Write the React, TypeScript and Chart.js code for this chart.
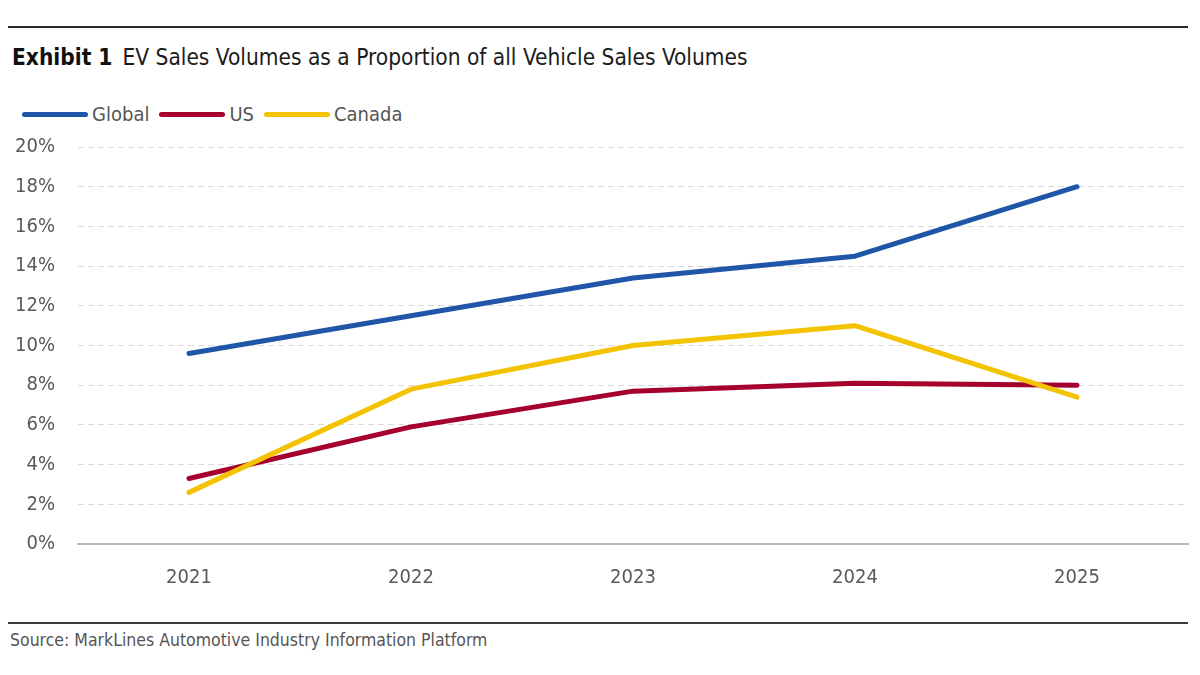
import React, { useEffect, useRef } from "react";
import { Chart, registerables } from "chart.js";

Chart.register(...registerables);

// Share of EV sales in all vehicle sales, percent
const years = ["2021", "2022", "2023", "2024", "2025"];
const globalShare = [9.6, 11.5, 13.4, 14.5, 18.0];
const usShare = [3.3, 5.9, 7.7, 8.1, 8.0];
const canadaShare = [2.6, 7.8, 10.0, 11.0, 7.4];

const seriesNames = ["Global", "US", "Canada"];
const seriesColors = ["#1f56a8", "#a6002f", "#f4c300"];

const yMin = 0;
const yMax = 20;
const yStep = 2;

const FONT = '"Liberation Sans Narrow", "DejaVu Sans Condensed", "Roboto Condensed", sans-serif';

export default function App() {
  const canvasRef = useRef<HTMLCanvasElement | null>(null);

  useEffect(() => {
    const canvas = canvasRef.current;
    if (!canvas) return;
    const values = [globalShare, usShare, canadaShare];
    const drawOrder = [2, 1, 0]; // Canada drawn on top, then US, then Global
    const chart = new Chart(canvas, {
      type: "line",
      data: {
        labels: years,
        datasets: seriesNames.map((name, i) => ({
          label: name,
          data: values[i],
          borderColor: seriesColors[i],
          backgroundColor: seriesColors[i],
          borderWidth: 5,
          borderCapStyle: "round" as const,
          borderJoinStyle: "round" as const,
          pointRadius: 0,
          pointHoverRadius: 0,
          tension: 0,
          fill: false,
          order: drawOrder[i],
        })),
      },
      options: {
        responsive: false,
        maintainAspectRatio: false,
        animation: false,
        layout: { padding: { top: 17, right: 12, left: 0, bottom: 0 } },
        plugins: {
          legend: { display: false },
          tooltip: { enabled: false },
          title: { display: false },
        },
        scales: {
          x: {
            offset: true,
            grid: { display: false, drawTicks: false },
            border: { display: true, color: "#b8b8b8", width: 2 },
            ticks: {
              color: "#595959",
              padding: 22,
              font: { family: FONT, size: 20 },
              maxRotation: 0,
            },
            afterFit: (scale: any) => {
              scale.height = 56;
            },
          },
          y: {
            min: yMin,
            max: yMax,
            grid: {
              drawTicks: false,
              lineWidth: 1,
              color: (ctx: any) => (ctx.tick && ctx.tick.value === 0 ? "rgba(0,0,0,0)" : "#d9d9d9"),
            },
            border: { display: false, dash: [6, 4] },
            ticks: {
              stepSize: yStep,
              color: "#595959",
              padding: 23,
              font: { family: FONT, size: 20 },
              callback: (v: any) => `${v}%`,
            },
            afterFit: (scale: any) => {
              scale.width = 78;
            },
          },
        },
      },
    });
    return () => chart.destroy();
  }, []);

  return (
    <div
      style={{
        position: "absolute",
        left: 0,
        top: 0,
        width: 1200,
        height: 675,
        background: "#ffffff",
        fontFamily: FONT,
        overflow: "hidden",
      }}
    >
      <div style={{ position: "absolute", left: 8, top: 26, width: 1180, height: 2, background: "#2b2b2b" }} />
      <div
        style={{
          position: "absolute",
          left: 12,
          top: 43,
          fontSize: 22.5,
          lineHeight: "28px",
          color: "#1c1c1c",
          whiteSpace: "nowrap",
        }}
      >
        <span style={{ fontWeight: 700, color: "#111" }}>Exhibit 1</span>
        <span style={{ marginLeft: 10 }}>EV Sales Volumes as a Proportion of all Vehicle Sales Volumes</span>
      </div>
      <div
        style={{
          position: "absolute",
          left: 22,
          top: 101,
          display: "flex",
          alignItems: "center",
          fontSize: 20,
          lineHeight: "26px",
          color: "#555",
          whiteSpace: "nowrap",
        }}
      >
        {seriesNames.map((name, i) => (
          <div key={name} style={{ display: "flex", alignItems: "center", marginRight: 10 }}>
            <span
              style={{
                display: "inline-block",
                width: 66,
                height: 5,
                borderRadius: 3,
                background: seriesColors[i],
                marginRight: 4,
              }}
            />
            <span>{name}</span>
          </div>
        ))}
      </div>
      <canvas
        ref={canvasRef}
        width={1200}
        height={488}
        style={{ position: "absolute", left: 0, top: 112, width: 1200, height: 488 }}
      />
      <div style={{ position: "absolute", left: 8, top: 622, width: 1180, height: 2, background: "#3a3a3a" }} />
      <div
        style={{
          position: "absolute",
          left: 10,
          top: 628,
          fontSize: 17.5,
          lineHeight: "24px",
          color: "#555",
          whiteSpace: "nowrap",
        }}
      >
        Source: MarkLines Automotive Industry Information Platform
      </div>
    </div>
  );
}
